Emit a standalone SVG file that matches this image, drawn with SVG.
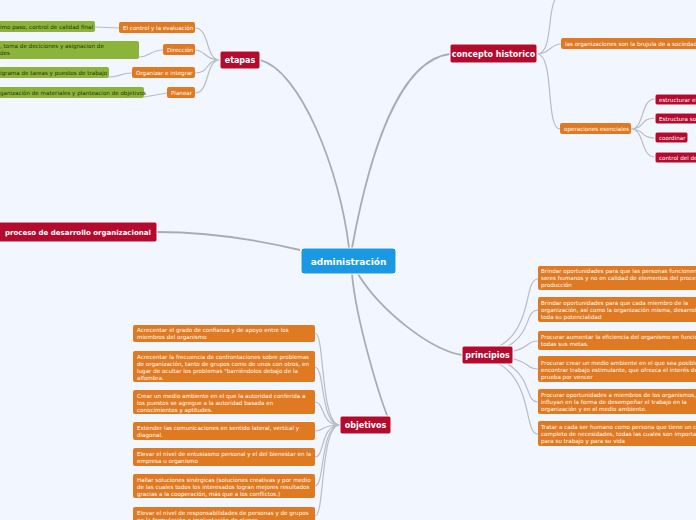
<svg xmlns="http://www.w3.org/2000/svg" width="696" height="520" viewBox="0 0 696 520">
<style>
text{font-family:"DejaVu Sans","Liberation Sans",sans-serif;}
.c{fill:none;stroke:#b8bcc4;stroke-width:1.2}
.cm{fill:none;stroke:#a8acb4;stroke-width:1.8}
.r{fill:#b30a2e;stroke:#fff;stroke-width:1}
.o{fill:#e07a22}
.g{fill:#8db43a}
.bt{fill:#fff;font-size:8px;font-weight:bold}
.ot{fill:#fff;font-size:5.6px}
.gt{fill:#243010;font-size:5.6px}
.rt{fill:#fff;font-size:5.6px}
</style>
<rect width="696" height="520" fill="#f2f6fe"/>
<g id="connectors">
<path class="cm" d="M349 248 C340 170 300 70 260 60"/>
<path class="cm" d="M352 248 C370 150 400 60 450 54"/>
<path class="cm" d="M300 250 C250 238 200 232 157 232"/>
<path class="cm" d="M352 274 C356 320 380 400 391 425"/>
<path class="cm" d="M358 274 C380 310 430 350 462 355"/>
<path class="c" d="M220 60 C205 60 210 28 195 28 M220 60 C205 60 205 50 195 50 M220 60 C205 60 210 73 195 73 M220 60 C205 60 210 93 195 93"/>
<path class="c" d="M119 28 L95 27 M163 50 C150 50 150 57 139 57 M132 73 C120 73 120 77 109 77 M167 93 L144 97"/>
<path class="c" d="M537 54 C555 54 545 0 560 -5 M537 54 C550 54 550 44 561 44 M537 54 C555 54 545 129 560 129"/>
<path class="c" d="M631 129 C645 129 640 99 655 99 M631 129 C645 129 640 118 655 118 M631 129 C645 129 640 138 655 138 M631 129 C645 129 640 157 655 157"/>
<path class="c" d="M462 355 C540 355 520 279 538 279 M462 355 C540 355 520 310 538 310 M462 355 C540 355 520 341 538 341 M462 355 C540 355 520 369 538 369 M462 355 C540 355 520 402 538 402 M462 355 C540 355 520 434 538 434"/>
<path class="c" d="M340 425 C320 425 325 333 315 333 M340 425 C320 425 325 367 315 367 M340 425 C320 425 325 402 315 402 M340 425 C320 425 325 431 315 431 M340 425 C320 425 325 457 315 457 M340 425 C320 425 325 486 315 486 M340 425 C320 425 325 516 315 516"/>
</g>
<g id="root"><rect x="301" y="248" width="95" height="26" rx="3" fill="#1a98e4" stroke="#fff"/><text x="348.5" y="265" text-anchor="middle" class="bt" style="font-size:9px">administración</text></g>
<g id="etapas"><rect class="r" x="220" y="51" width="40" height="18" rx="2"/><text x="240" y="63" text-anchor="middle" class="bt">etapas</text></g>
<g id="concepto"><rect class="r" x="450" y="44" width="87" height="19" rx="2"/><text x="493.5" y="56.5" text-anchor="middle" class="bt">concepto historico</text></g>
<g id="principios"><rect class="r" x="462" y="346" width="51" height="18" rx="2"/><text x="487.5" y="358" text-anchor="middle" class="bt">principios</text></g>
<g id="objetivos"><rect class="r" x="340" y="416" width="51" height="18" rx="2"/><text x="365.5" y="428" text-anchor="middle" class="bt">objetivos</text></g>
<g id="proceso"><rect class="r" x="-5" y="222" width="162" height="20" rx="2"/><text x="5" y="235" class="bt" style="font-size:7px">proceso de desarrollo organizacional</text></g>
<g id="e1"><rect class="o" x="119" y="22" width="76" height="11" rx="2"/><text x="123" y="29.5" class="ot">El control y la evaluación</text></g>
<g id="e2"><rect class="o" x="163" y="44" width="32" height="11" rx="2"/><text x="167" y="51.5" class="ot">Dirección</text></g>
<g id="e3"><rect class="o" x="132" y="67" width="63" height="11" rx="2"/><text x="136" y="74.5" class="ot">Organizar e integrar</text></g>
<g id="e4"><rect class="o" x="167" y="87" width="28" height="11" rx="2"/><text x="171" y="94.5" class="ot">Planear</text></g>
<g id="g1"><rect class="g" x="-5" y="21" width="100" height="11" rx="2"/><text x="0" y="28.5" class="gt">imo paso, control de calidad final</text></g>
<g id="g2"><rect class="g" x="-5" y="41" width="144" height="18" rx="2"/><text x="0" y="48" class="gt">, toma de deciciones y asignacion de</text><text x="0" y="55" class="gt">des</text></g>
<g id="g3"><rect class="g" x="-5" y="67" width="114" height="11" rx="2"/><text x="0" y="74.5" class="gt">igrama de tareas y puestos de trabajo</text></g>
<g id="g4"><rect class="g" x="-5" y="87" width="149" height="11" rx="2"/><text x="0" y="94.5" class="gt">ganización de materiales y planteacion de objetivos</text></g>
<g id="c1"><rect class="o" x="561" y="38" width="140" height="11" rx="2"/><text x="565" y="45.5" class="ot">las organizaciones son la brujula de a sociedad</text></g>
<g id="c2"><rect class="o" x="560" y="123" width="71" height="11" rx="2"/><text x="564" y="130.5" class="ot">operaciones esenciales</text></g>
<g id="o1"><rect class="r" x="655" y="94" width="45" height="11" rx="2"/><text x="659" y="101.5" class="rt">estructurar el</text></g>
<g id="o2"><rect class="r" x="655" y="113" width="45" height="11" rx="2"/><text x="659" y="120.5" class="rt">Estructura so</text></g>
<g id="o3"><rect class="r" x="655" y="132" width="33" height="11" rx="2"/><text x="659" y="139.5" class="rt">coordinar</text></g>
<g id="o4"><rect class="r" x="655" y="152" width="45" height="11" rx="2"/><text x="659" y="159.5" class="rt">control del de</text></g>
<g id="p1"><rect class="o" x="538" y="266" width="165" height="24" rx="2"/><text x="541" y="273" class="ot">Brindar oportunidades para que las personas funcionen como</text><text x="541" y="280" class="ot">seres humanos y no en calidad de elementos del proceso de</text><text x="541" y="287" class="ot">producción</text></g>
<g id="p2"><rect class="o" x="538" y="297" width="165" height="25" rx="2"/><text x="541" y="305" class="ot">Brindar oportunidades para que cada miembro de la</text><text x="541" y="312" class="ot">organización, así como la organización misma, desarrollen</text><text x="541" y="319" class="ot">toda su potencialidad</text></g>
<g id="p3"><rect class="o" x="538" y="331" width="165" height="19" rx="2"/><text x="541" y="338.5" class="ot">Procurar aumentar la eficiencia del organismo en función de</text><text x="541" y="345.5" class="ot">todas sus metas.</text></g>
<g id="p4"><rect class="o" x="538" y="356" width="165" height="26" rx="2"/><text x="541" y="364.5" class="ot">Procurar crear un medio ambiente en el que sea posible</text><text x="541" y="371.5" class="ot">encontrar trabajo estimulante, que ofrezca el interés de una</text><text x="541" y="378.5" class="ot">prueba por vencer</text></g>
<g id="p5"><rect class="o" x="538" y="389" width="165" height="25" rx="2"/><text x="541" y="397" class="ot">Procurar oportunidades a miembros de los organismos, para que</text><text x="541" y="404" class="ot">influyan en la forma de desempeñar el trabajo en la</text><text x="541" y="411" class="ot">organización y en el medio ambiente.</text></g>
<g id="p6"><rect class="o" x="538" y="421" width="165" height="25" rx="2"/><text x="541" y="429" class="ot">Tratar a cada ser humano como persona que tiene un conjunto</text><text x="541" y="436" class="ot">completo de necesidades, todas las cuales son importantes</text><text x="541" y="443" class="ot">para su trabajo y para su vida</text></g>
<g id="b1"><rect class="o" x="133" y="325" width="182" height="17" rx="2"/><text x="137" y="332" class="ot">Acrecentar el grado de confianza y de apoyo entre los</text><text x="137" y="339" class="ot">miembros del organismo</text></g>
<g id="b2"><rect class="o" x="133" y="351" width="182" height="31" rx="2"/><text x="137" y="358.5" class="ot">Acrecentar la frecuencia de confrontaciones sobre problemas</text><text x="137" y="365.5" class="ot">de organización, tanto de grupos como de unos con otros, en</text><text x="137" y="372.5" class="ot">lugar de ocultar los problemas "barriéndolos debajo de la</text><text x="137" y="379.5" class="ot">alfombra.</text></g>
<g id="b3"><rect class="o" x="133" y="390" width="182" height="24" rx="2"/><text x="137" y="397.5" class="ot">Crear un medio ambiente en el que la autoridad conferida a</text><text x="137" y="404.5" class="ot">los puestos se agregue a la autoridad basada en</text><text x="137" y="411.5" class="ot">conocimientos y aptitudes.</text></g>
<g id="b4"><rect class="o" x="133" y="422" width="182" height="18" rx="2"/><text x="137" y="429.5" class="ot">Extender las comunicaciones en sentido lateral, vertical y</text><text x="137" y="436.5" class="ot">diagonal.</text></g>
<g id="b5"><rect class="o" x="133" y="448" width="182" height="18" rx="2"/><text x="137" y="455.5" class="ot">Elevar el nivel de entusiasmo personal y el del bienestar en la</text><text x="137" y="462.5" class="ot">empresa u organismo</text></g>
<g id="b6"><rect class="o" x="133" y="474" width="182" height="24" rx="2"/><text x="137" y="481.5" class="ot">Hallar soluciones sinérgicas (soluciones creativas y por medio</text><text x="137" y="488.5" class="ot">de las cuales todos los interesados logran mejores resultados</text><text x="137" y="495.5" class="ot">gracias a la cooperación, más que a los conflictos.)</text></g>
<g id="b7"><rect class="o" x="133" y="507" width="182" height="20" rx="2"/><text x="137" y="514.5" class="ot">Elevar el nivel de responsabilidades de personas y de grupos</text><text x="137" y="521.5" class="ot">en la formulación e implantación de planes</text></g>
</svg>
